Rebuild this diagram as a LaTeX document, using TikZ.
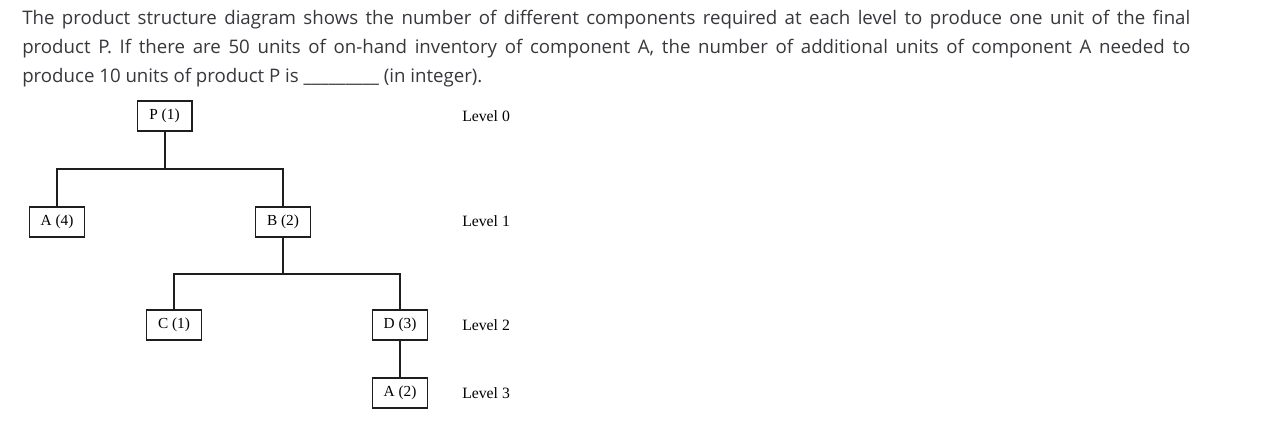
\documentclass[tikz,border=0pt]{standalone}
\usepackage{fontspec}
\setmainfont{Liberation Serif}
\newfontfamily\questfont{Open Sans}
\definecolor{textgray}{RGB}{55, 55, 62}
\definecolor{linegray}{RGB}{30, 30, 30}
\usetikzlibrary{positioning, calc}

\begin{document}
\begin{tikzpicture}[x=0.75pt, y=-0.75pt,
  part/.style={draw=linegray, line width=1pt, minimum width=41pt, minimum height=22.5pt, inner sep=0pt, font=\fontsize{11.5}{13}\selectfont},
  levellabel/.style={anchor=west, inner sep=0pt, font=\fontsize{11.8}{13}\selectfont},
  link/.style={draw=linegray, line width=1.5pt}]
  \useasboundingbox[fill=white] (0,0) rectangle (1263,428);

  % Question
  \node[anchor=base west, text width=876pt, align=justify, inner sep=0pt, text=textgray, font=\questfont\fontsize{14}{21.5}\selectfont] (question) at (22,25) {
    The product structure diagram shows the number of different components required at each level to produce one unit of the final\linebreak
    product P. If there are 50 units of on-hand inventory of component A, the number of additional units of component A needed to\linebreak
    produce 10 units of product P is \_\_\_\_\_\_\_\_\_ (in integer).
  };

  % Parts
  \node[part] (p1) at (164.5,116) {P (1)};
  \node[part] (a4) at (57,222) {A (4)};
  \node[part] (b2) at (283,222) {B (2)};
  \node[part] (c1) at (174,325) {C (1)};
  \node[part] (d3) at (400,325) {D (3)};
  \node[part] (a2) at (400,393) {A (2)};

  % Levels
  \node[levellabel] (lev0) at (462,116) {Level 0};
  \node[levellabel] (lev1) at (462,221) {Level 1};
  \node[levellabel] (lev2) at (462,325) {Level 2};
  \node[levellabel] (lev3) at (462,393) {Level 3};

  % Links
  \coordinate (bar1) at (0,169);
  \coordinate (bar2) at (0,274);
  \draw[link] (p1.south) -- (p1.south |- bar1);
  \draw[link] (a4.north) |- (b2.north |- bar1) -- (b2.north);
  \draw[link] (b2.south) -- (b2.south |- bar2);
  \draw[link] (c1.north) |- (d3.north |- bar2) -- (d3.north);
  \draw[link] (d3.south) -- (a2.north);
\end{tikzpicture}
\end{document}
